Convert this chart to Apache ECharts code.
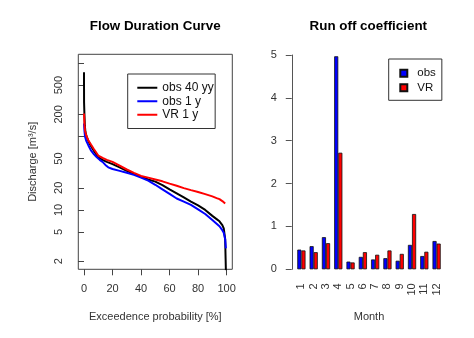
<!DOCTYPE html>
<html><head><meta charset="utf-8">
<script src="https://cdn.jsdelivr.net/npm/echarts@6/dist/echarts.min.js"></script>
<style>html,body{margin:0;padding:0;background:#fff}#c{width:474px;height:338px}</style>
</head><body><div id="c"></div>
<script>
// Flow duration curves: exceedance probability [%] and discharge [m3/s]
const obs40Pct = [0, 0.05, 0.3, 0.6, 1, 2, 3, 4, 6, 8, 10, 13, 16, 20, 25, 30, 35, 40, 45, 50, 55, 60, 65, 70, 75, 80, 85, 90, 93, 95, 97, 98, 99, 99.3, 99.5];
const obs40Q   = [745, 290, 200, 140, 115, 97, 87, 79, 68, 59, 52, 48, 45, 42, 38, 34, 31, 28.3, 26, 24.3, 21.8, 19, 16.8, 14.8, 13, 11.5, 10, 8.3, 7.5, 7.0, 6.2, 5.6, 4, 2.2, 1.5];
const obs1Pct  = [0, 0.3, 0.7, 1.5, 3, 5, 7, 9, 11, 13, 15, 17, 20, 25, 30, 35, 40, 45, 50, 55, 60, 65, 70, 75, 80, 85, 90, 93, 95, 97, 98, 99, 99.5];
const obs1Q    = [150, 120, 100, 88, 76, 64, 57, 52, 48, 45, 41, 38, 36, 34, 32, 30, 27.5, 25, 22, 19, 16.5, 14.3, 13, 11.7, 10.2, 8.8, 7.3, 6.5, 6, 5.3, 4.9, 4, 3];
const vrPct    = [0, 0.3, 0.7, 1.5, 3, 5, 7, 10, 13, 16, 20, 25, 30, 35, 40, 45, 50, 55, 60, 65, 70, 75, 80, 85, 90, 93, 95, 97, 99];
const vrQ      = [205, 150, 120, 104, 89, 77, 67, 55, 51, 48, 45, 40, 35.5, 32, 29, 27.5, 26, 24.5, 22.8, 21.3, 19.8, 18.6, 17.5, 16.4, 15.3, 14.5, 14, 13.2, 12.2];
const dischargeTicks  = [2, 5, 10, 20, 50, 100, 200, 500, 1000];
const dischargeLabels = [2, 5, 10, 20, 50, 200, 500];
const pctTicks = [0, 20, 40, 60, 80, 100];

// Run-off coefficient per month
const months    = ['1','2','3','4','5','6','7','8','9','10','11','12'];
const obsRunoff = [0.46, 0.54, 0.75, 4.97, 0.18, 0.29, 0.23, 0.26, 0.20, 0.57, 0.31, 0.66];
const vrRunoff  = [0.44, 0.40, 0.61, 2.72, 0.16, 0.40, 0.34, 0.44, 0.36, 1.29, 0.41, 0.60];

const lg = Math.log10;
const pairs = (p, q) => p.map((v, i) => [v, lg(q[i])]);
const FONT = '"Liberation Sans", Arial, sans-serif';
const TXT = '#333';

const chart = echarts.init(document.getElementById('c'), null, {renderer: 'canvas'});
chart.setOption({
  animation: false,
  textStyle: {fontFamily: FONT},
  title: [
    {text: 'Flow Duration Curve', left: 155.2, top: 20, textAlign: 'center', padding: 0,
     textStyle: {fontFamily: FONT, fontSize: 13.4, fontWeight: 'bold', color: '#000'}},
    {text: 'Run off coefficient', left: 368.3, top: 20, textAlign: 'center', padding: 0,
     textStyle: {fontFamily: FONT, fontSize: 13.4, fontWeight: 'bold', color: '#000'}}
  ],
  grid: [
    {left: 78.3, right: 241.7, top: 54.3, bottom: 68.7, show: true, borderColor: '#444', borderWidth: 1, backgroundColor: 'transparent'},
    {left: 295.25, right: 31.25, top: 55, bottom: 68.7}
  ],
  legend: [
    {data: ['obs 40 yy', 'obs 1 y', 'VR 1 y'], orient: 'vertical', left: 127.7, top: 74,
     icon: 'rect', itemWidth: 20, itemHeight: 2, itemGap: 0,
     padding: [7, 1.5, 7, 9.6], borderColor: '#333', borderWidth: 1,
     textStyle: {fontFamily: FONT, fontSize: 12, color: '#111', lineHeight: 13.5}},
    {data: ['obs', 'VR'], orient: 'vertical', left: 388.7, top: 59,
     icon: 'rect', itemWidth: 7, itemHeight: 7, itemGap: 0,
     padding: [7.1, 6, 5.4, 10.6], borderColor: '#333', borderWidth: 1,
     textStyle: {fontFamily: FONT, fontSize: 11.5, color: '#111', lineHeight: 14.4, padding: [0, 0, 0, 5]}}
  ],
  xAxis: [
    {type: 'value', gridIndex: 0, min: -4, max: 104,
     name: 'Exceedence probability [%]', nameLocation: 'middle', nameGap: 42,
     nameTextStyle: {fontFamily: FONT, fontSize: 11, color: TXT},
     axisLine: {show: false}, splitLine: {show: false},
     axisTick: {show: true, length: 6, lineStyle: {color: '#444'}, customValues: pctTicks},
     axisLabel: {fontSize: 11, color: TXT, margin: 14, customValues: pctTicks}},
    {type: 'category', gridIndex: 1, data: months,
     name: 'Month', nameLocation: 'middle', nameGap: 42,
     nameTextStyle: {fontFamily: FONT, fontSize: 11, color: TXT},
     axisLine: {show: false}, axisTick: {show: false},
     axisLabel: {fontSize: 11, color: TXT, rotate: 90, margin: 14, interval: 0}}
  ],
  yAxis: [
    {type: 'value', gridIndex: 0, min: 0.192, max: 3.118,
     name: 'Discharge [m³/s]', nameLocation: 'middle', nameGap: 40,
     nameTextStyle: {fontFamily: FONT, fontSize: 11, color: TXT},
     axisLine: {show: false}, splitLine: {show: false},
     axisTick: {show: true, length: 6, lineStyle: {color: '#444'}, customValues: dischargeTicks.map(lg)},
     axisLabel: {fontSize: 11, color: TXT, rotate: 90, margin: 14,
       customValues: dischargeLabels.map(lg),
       formatter: v => String(Math.round(Math.pow(10, v)))}},
    {type: 'value', gridIndex: 1, min: 0, max: 5, interval: 1, offset: 3.5,
     axisLine: {show: true, lineStyle: {color: '#555'}}, splitLine: {show: false},
     axisTick: {show: true, length: 6, lineStyle: {color: '#555'}},
     axisLabel: {fontSize: 11, color: TXT, margin: 15}}
  ],
  series: [
    {name: 'obs 40 yy', type: 'line', xAxisIndex: 0, yAxisIndex: 0, data: pairs(obs40Pct, obs40Q),
     color: '#000', showSymbol: false, symbol: 'none', lineStyle: {width: 2}, clip: true},
    {name: 'obs 1 y', type: 'line', xAxisIndex: 0, yAxisIndex: 0, data: pairs(obs1Pct, obs1Q),
     color: '#0000ff', showSymbol: false, symbol: 'none', lineStyle: {width: 2}, clip: true},
    {name: 'VR 1 y', type: 'line', xAxisIndex: 0, yAxisIndex: 0, data: pairs(vrPct, vrQ),
     color: '#ff0000', showSymbol: false, symbol: 'none', lineStyle: {width: 2}, clip: true},
    {name: 'obs', type: 'bar', xAxisIndex: 1, yAxisIndex: 1, data: obsRunoff,
     barWidth: 4.1, barGap: '0%', itemStyle: {color: '#0000ff', borderColor: '#111', borderWidth: 0.8}},
    {name: 'VR', type: 'bar', xAxisIndex: 1, yAxisIndex: 1, data: vrRunoff,
     barWidth: 4.1, barGap: '0%', itemStyle: {color: '#ff0000', borderColor: '#111', borderWidth: 0.8}}
  ]
});
</script></body></html>
